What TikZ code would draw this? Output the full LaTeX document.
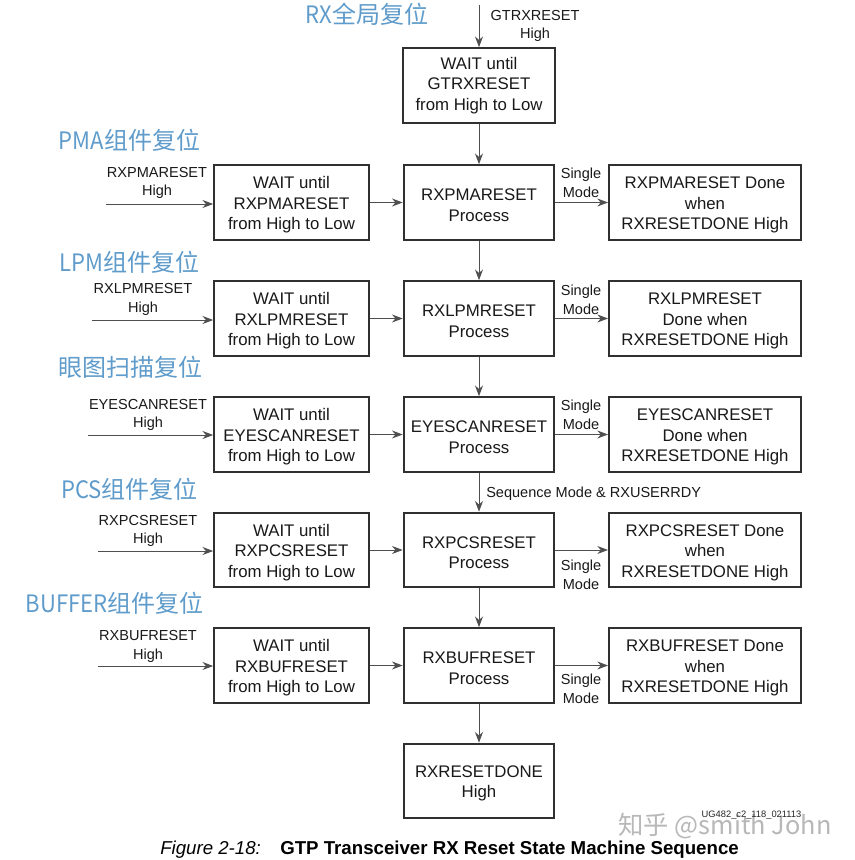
\documentclass[tikz,border=0pt]{standalone}
\usepackage{fontspec}
\usepackage{graphicx}
\setmainfont{Liberation Sans}
\newfontfamily\cjkfont{Noto Sans CJK SC}
\usetikzlibrary{arrows.meta}
\definecolor{bluelab}{HTML}{5F9CCB}
\definecolor{linegray}{HTML}{303030}
\newcommand{\latn}[1]{\scalebox{0.92}[1]{#1}}
\newcommand{\lowline}{\rule{0pt}{12.6pt}}
\tikzset{
  box/.style={draw=linegray,line width=1.5pt,fill=white,align=center,inner sep=0pt,font=\fontsize{12.6}{15.4}\selectfont,text=black!90},
  wait/.style={box,minimum width=116pt,minimum height=56pt},
  proc/.style={box,minimum width=113pt,minimum height=56pt},
  done/.style={box,minimum width=144pt,minimum height=56pt},
  topbox/.style={box,minimum width=114pt,minimum height=56pt},
  small/.style={align=center,inner sep=0pt,font=\fontsize{10.9}{14.1}\selectfont,text=black!90},
  zh/.style={inner sep=0pt,text=bluelab,font=\cjkfont\fontsize{18}{20}\selectfont},
  conn/.style={draw=linegray!85,line width=0.75pt,-{Stealth[length=8pt,width=6pt]}}
}
\begin{document}
\begin{tikzpicture}[x=0.75pt,y=-0.75pt]
\useasboundingbox[fill=white] (0,0) rectangle (854,860);
% top
\coordinate (topin) at (479,5);
\node[topbox] (top) at (479,85.5) {WAIT until\\GTRXRESET\\from High to Low};
\node[small] (toplab) at (535,26) {GTRXRESET\\High};
% rows
\node[wait] (w1) at (291.5,202.5) {\lowline WAIT until\\RXPMARESET\\from High to Low};
\node[proc] (p1) at (479,202.5) {\lowline RXPMARESET\\Process};
\node[done] (d1) at (705,202.5) {\lowline RXPMARESET Done\\when\\RXRESETDONE High};
\node[wait] (w2) at (291.5,318.5) {\lowline WAIT until\\RXLPMRESET\\from High to Low};
\node[proc] (p2) at (479,318.5) {\lowline RXLPMRESET\\Process};
\node[done] (d2) at (705,318.5) {\lowline RXLPMRESET\\Done when\\RXRESETDONE High};
\node[wait] (w3) at (291.5,434.5) {\lowline WAIT until\\EYESCANRESET\\from High to Low};
\node[proc] (p3) at (479,434.5) {\lowline EYESCANRESET\\Process};
\node[done] (d3) at (705,434.5) {\lowline EYESCANRESET\\Done when\\RXRESETDONE High};
\node[wait] (w4) at (291.5,550) {\lowline WAIT until\\RXPCSRESET\\from High to Low};
\node[proc] (p4) at (479,550) {\lowline RXPCSRESET\\Process};
\node[done] (d4) at (705,550) {\lowline RXPCSRESET Done\\when\\RXRESETDONE High};
\node[wait] (w5) at (291.5,665.5) {\lowline WAIT until\\RXBUFRESET\\from High to Low};
\node[proc] (p5) at (479,665.5) {\lowline RXBUFRESET\\Process};
\node[done] (d5) at (705,665.5) {\lowline RXBUFRESET Done\\when\\RXRESETDONE High};
\node[proc] (end) at (479,781) {\lowline RXRESETDONE\\High};
% free ends
\coordinate (i1) at (106,204);
\coordinate (i2) at (92,320);
\coordinate (i3) at (88,435);
\coordinate (i4) at (98,551);
\coordinate (i5) at (98,666);
% connectors
\draw[conn] (topin) -- (top.north);
\draw[conn] (top) -- (p1);
\draw[conn] (p1) -- (p2);
\draw[conn] (p2) -- (p3);
\draw[conn] (p3) -- (p4);
\draw[conn] (p4) -- (p5);
\draw[conn] (p5) -- (end);
\foreach \n in {1,...,5}{
  \draw[conn] (i\n) -- (i\n -| w\n.west);
  \draw[conn] (w\n) -- (p\n);
  \draw[conn] (p\n) -- (d\n);
}
% input labels
\node[small] (l1) at (157,183) {RXPMARESET\\High};
\node[small] (l2) at (143,299.5) {RXLPMRESET\\High};
\node[small] (l3) at (148,415) {EYESCANRESET\\High};
\node[small] (l4) at (148,531) {RXPCSRESET\\High};
\node[small] (l5) at (148,646.5) {RXBUFRESET\\High};
% mode labels
\node[small] (m1) at (581,183) {Single\\Mode};
\node[small] (m2) at (581,299.5) {Single\\Mode};
\node[small] (m3) at (581,415) {Single\\Mode};
\node[small] (m4) at (581,574.5) {Single\\Mode};
\node[small] (m5) at (581,689) {Single\\Mode};
\node[small,anchor=west] (seq) at (486,494) {Sequence Mode \& RXUSERRDY};
% blue labels
\node[zh] (z0) at (367,14) {\latn{RX}全局复位};
\node[zh] (z1) at (129.5,140) {\latn{PMA}组件复位};
\node[zh] (z2) at (129.5,262) {\latn{LPM}组件复位};
\node[zh] (z3) at (130,367) {眼图扫描复位};
\node[zh] (z4) at (129.5,489) {\latn{PCS}组件复位};
\node[zh] (z5) at (114.5,603) {\latn{BUFFER}组件复位};
% watermark and id
\node[inner sep=0pt,text=black!28,font=\cjkfont\fontsize{19}{20}\selectfont] (wm) at (725,826) {知乎 @smith John};
\node[inner sep=0pt,text=black!85,font=\fontsize{7}{8}\selectfont] (ug) at (751.5,815) {UG482\_c2\_118\_021113};
% caption
\node[inner sep=0pt,anchor=west,font=\fontsize{14}{16}\selectfont\itshape] (figno) at (160,849.5) {Figure 2-18:};
\node[inner sep=0pt,anchor=west,font=\fontsize{14}{16}\selectfont\bfseries] (cap) at (280,849.5) {GTP Transceiver RX Reset State Machine Sequence};
\end{tikzpicture}
\end{document}
